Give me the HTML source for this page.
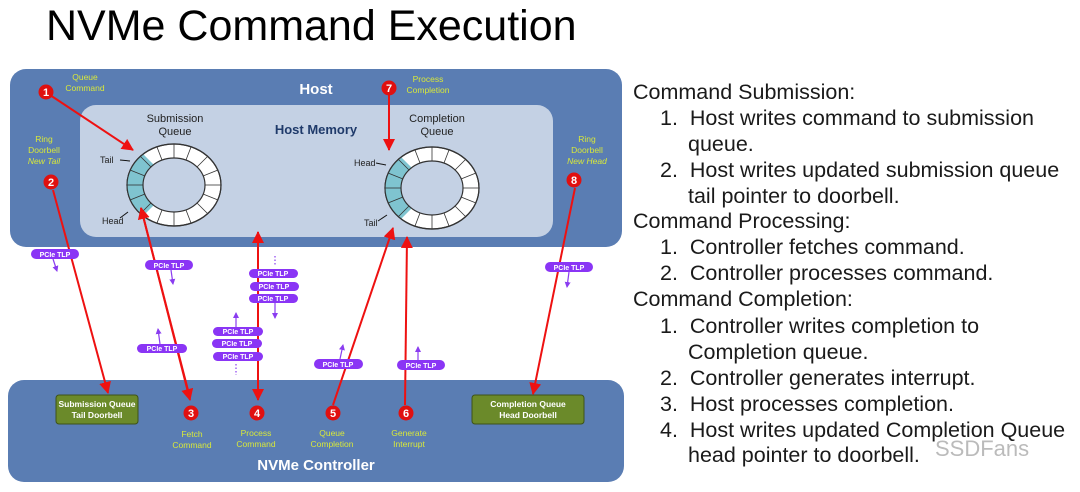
<!DOCTYPE html>
<html><head><meta charset="utf-8"><style>
html,body{margin:0;padding:0;background:#fff;width:1080px;height:492px;overflow:hidden}
.t{position:absolute;font-family:"Liberation Sans",sans-serif;color:#1a1a1a;font-size:21.5px;white-space:nowrap;line-height:26px}
</style></head><body>
<div class="t" style="left:46px;top:1px;font-size:43px;line-height:50px;color:#000">NVMe Command Execution</div>
<svg width="1080" height="492" style="position:absolute;left:0;top:0" font-family="Liberation Sans, sans-serif">
<defs>
<marker id="ah2" markerWidth="12" markerHeight="12" refX="11" refY="6" orient="auto" markerUnits="userSpaceOnUse"><path d="M0,0 L12,6 L0,12 z" fill="#ee1111"/></marker>
<marker id="pa" markerWidth="6" markerHeight="6" refX="5" refY="3" orient="auto" markerUnits="userSpaceOnUse"><path d="M0,0 L6,3 L0,6 z" fill="#8a3cf0"/></marker>
</defs>
<rect x="10" y="69" width="612" height="178" rx="16" fill="#5a7db3"/>
<rect x="80" y="105" width="473" height="132" rx="16" fill="#c4d1e4"/>
<text x="316" y="94" fill="#fff" font-size="15" font-weight="bold" text-anchor="middle">Host</text>
<text x="316" y="134" fill="#1f3a6a" font-size="13" font-weight="bold" text-anchor="middle">Host Memory</text>
<text x="175" y="122" fill="#222" font-size="11" text-anchor="middle">Submission</text>
<text x="175" y="135" fill="#222" font-size="11" text-anchor="middle">Queue</text>
<text x="437" y="122" fill="#222" font-size="11" text-anchor="middle">Completion</text>
<text x="437" y="135" fill="#222" font-size="11" text-anchor="middle">Queue</text>
<g font-size="8.5" fill="#d8e83a" text-anchor="middle">
<text x="85" y="80">Queue</text><text x="85" y="91">Command</text>
<text x="44" y="142">Ring</text><text x="44" y="153">Doorbell</text><text x="44" y="164" font-style="italic">New Tail</text>
<text x="428" y="82">Process</text><text x="428" y="93">Completion</text>
<text x="587" y="142">Ring</text><text x="587" y="153">Doorbell</text><text x="587" y="164" font-style="italic">New Head</text>
</g>
<g id="ring1">
<ellipse cx="174" cy="185" rx="47" ry="41" fill="#fff" stroke="#333" stroke-width="1.2"/>
<path d="M174 185 L127 185 A47 41 0 0 1 143 154 Z" fill="#7fc4d0"/>
<path d="M174 185 L127 185 A47 41 0 0 0 143 216 Z" fill="#7fc4d0"/>
<ellipse cx="174" cy="185" rx="47" ry="41" fill="none" stroke="#333" stroke-width="1.2"/>
<ellipse cx="174" cy="185" rx="31" ry="27" fill="#c4d1e4" stroke="#333" stroke-width="1.2"/>
<g stroke="#333" stroke-width="0.8">
<line x1="127" y1="185" x2="143" y2="185"/><line x1="221" y1="185" x2="205" y2="185"/>
<line x1="174" y1="144" x2="174" y2="158"/><line x1="174" y1="226" x2="174" y2="212"/>
<line x1="157" y1="147" x2="162" y2="160"/><line x1="191" y1="147" x2="186" y2="160"/>
<line x1="157" y1="223" x2="162" y2="210"/><line x1="191" y1="223" x2="186" y2="210"/>
<line x1="140" y1="156" x2="151" y2="167"/><line x1="208" y1="156" x2="197" y2="167"/>
<line x1="140" y1="214" x2="151" y2="203"/><line x1="208" y1="214" x2="197" y2="203"/>
<line x1="130" y1="170" x2="145" y2="176"/><line x1="218" y1="170" x2="203" y2="176"/>
<line x1="130" y1="200" x2="145" y2="194"/><line x1="218" y1="200" x2="203" y2="194"/>
</g></g>
<use href="#ring1" x="258" y="3"/>
<g font-size="9" fill="#222">
<text x="100" y="163">Tail</text><text x="102" y="224">Head</text>
<text x="354" y="166">Head</text><text x="364" y="226">Tail</text>
</g>
<g stroke="#111" stroke-width="1">
<line x1="120" y1="160" x2="130" y2="161"/><line x1="120" y1="218" x2="128" y2="212"/>
<line x1="376" y1="163" x2="386" y2="165"/><line x1="378" y1="221" x2="387" y2="215"/>
</g>
<rect x="8" y="380" width="616" height="102" rx="16" fill="#5a7db3"/>
<text x="316" y="470" fill="#fff" font-size="15" font-weight="bold" text-anchor="middle">NVMe Controller</text>
<rect x="56" y="395" width="82" height="29" rx="3" fill="#6b8a2a" stroke="#3d5218"/>
<text x="97" y="407" fill="#fff" font-size="8.5" font-weight="bold" text-anchor="middle">Submission Queue</text>
<text x="97" y="418" fill="#fff" font-size="8.5" font-weight="bold" text-anchor="middle">Tail Doorbell</text>
<rect x="472" y="395" width="112" height="29" rx="3" fill="#6b8a2a" stroke="#3d5218"/>
<text x="528" y="407" fill="#fff" font-size="8.5" font-weight="bold" text-anchor="middle">Completion Queue</text>
<text x="528" y="418" fill="#fff" font-size="8.5" font-weight="bold" text-anchor="middle">Head Doorbell</text>
<g font-size="8.5" fill="#d8e83a" text-anchor="middle">
<text x="192" y="437">Fetch</text><text x="192" y="448">Command</text>
<text x="256" y="436">Process</text><text x="256" y="447">Command</text>
<text x="332" y="436">Queue</text><text x="332" y="447">Completion</text>
<text x="409" y="436">Generate</text><text x="409" y="447">Interrupt</text>
</g>
<g stroke="#ee1111" stroke-width="2" fill="none">
<line x1="50" y1="95" x2="133" y2="150" marker-end="url(#ah2)"/>
<line x1="53" y1="190" x2="108" y2="393" marker-end="url(#ah2)"/>
<line x1="190" y1="398" x2="141" y2="208" marker-end="url(#ah2)"/>
<line x1="141" y1="208" x2="190" y2="400" marker-end="url(#ah2)"/>
<line x1="258" y1="260" x2="258" y2="232" marker-end="url(#ah2)"/>
<line x1="258" y1="240" x2="258" y2="400" marker-end="url(#ah2)"/>
<line x1="333" y1="405" x2="393" y2="228" marker-end="url(#ah2)"/>
<line x1="405" y1="405" x2="407" y2="237" marker-end="url(#ah2)"/>
<line x1="389" y1="95" x2="389" y2="150" marker-end="url(#ah2)"/>
<line x1="575" y1="188" x2="533" y2="394" marker-end="url(#ah2)"/>
</g>
<g font-size="11" font-weight="bold" fill="#fff" text-anchor="middle">
<circle cx="46" cy="92" r="7.5" fill="#e01010"/><text x="46" y="96">1</text>
<circle cx="51" cy="182" r="7.5" fill="#e01010"/><text x="51" y="186">2</text>
<circle cx="191" cy="413" r="7.5" fill="#e01010"/><text x="191" y="417">3</text>
<circle cx="257" cy="413" r="7.5" fill="#e01010"/><text x="257" y="417">4</text>
<circle cx="333" cy="413" r="7.5" fill="#e01010"/><text x="333" y="417">5</text>
<circle cx="406" cy="413" r="7.5" fill="#e01010"/><text x="406" y="417">6</text>
<circle cx="389" cy="88" r="7.5" fill="#e01010"/><text x="389" y="92">7</text>
<circle cx="574" cy="180" r="7.5" fill="#e01010"/><text x="574" y="184">8</text>
</g>
<g font-size="7" font-weight="bold" fill="#fff" text-anchor="middle">
<rect x="31" y="249" width="48" height="10" rx="5" fill="#8a35f5"/><text x="55" y="257">PCIe TLP</text>
<rect x="145" y="260" width="48" height="10" rx="5" fill="#8a35f5"/><text x="169" y="268">PCIe TLP</text>
<rect x="249" y="269" width="49" height="9" rx="4.5" fill="#8a35f5"/><text x="273" y="276">PCIe TLP</text>
<rect x="250" y="282" width="49" height="9" rx="4.5" fill="#8a35f5"/><text x="274" y="289">PCIe TLP</text>
<rect x="249" y="294" width="49" height="9" rx="4.5" fill="#8a35f5"/><text x="273" y="301">PCIe TLP</text>
<rect x="213" y="327" width="50" height="9" rx="4.5" fill="#8a35f5"/><text x="238" y="334">PCIe TLP</text>
<rect x="212" y="339" width="50" height="9" rx="4.5" fill="#8a35f5"/><text x="237" y="346">PCIe TLP</text>
<rect x="213" y="352" width="50" height="9" rx="4.5" fill="#8a35f5"/><text x="238" y="359">PCIe TLP</text>
<rect x="137" y="344" width="50" height="9" rx="4.5" fill="#8a35f5"/><text x="162" y="351">PCIe TLP</text>
<rect x="314" y="359" width="49" height="10" rx="5" fill="#8a35f5"/><text x="338" y="367">PCIe TLP</text>
<rect x="397" y="360" width="48" height="10" rx="5" fill="#8a35f5"/><text x="421" y="368">PCIe TLP</text>
<rect x="545" y="262" width="48" height="10" rx="5" fill="#8a35f5"/><text x="569" y="270">PCIe TLP</text>
</g>
<g stroke="#8a3cf0" stroke-width="1.2" marker-end="url(#pa)">
<line x1="53" y1="259" x2="57" y2="271"/>
<line x1="171" y1="270" x2="173" y2="284"/>
<line x1="275" y1="303" x2="275" y2="318"/>
<line x1="236" y1="327" x2="236" y2="313"/>
<line x1="160" y1="344" x2="158" y2="329"/>
<line x1="340" y1="359" x2="343" y2="345"/>
<line x1="418" y1="360" x2="418" y2="347"/>
<line x1="569" y1="272" x2="567" y2="287"/>
</g>
<g stroke="#8a3cf0" stroke-width="1.2" stroke-dasharray="1.5,2">
<line x1="275" y1="256" x2="275" y2="266"/>
<line x1="236" y1="364" x2="236" y2="375"/>
</g>
</svg>
<div class="t" style="left:633px;top:79px">Command Submission:</div>
<div class="t" style="left:660px;top:105px">1.&nbsp; Host writes command to submission</div>
<div class="t" style="left:688px;top:131px">queue.</div>
<div class="t" style="left:660px;top:157px">2.&nbsp; Host writes updated submission queue</div>
<div class="t" style="left:688px;top:183px">tail pointer to doorbell.</div>
<div class="t" style="left:633px;top:208px">Command Processing:</div>
<div class="t" style="left:660px;top:234px">1.&nbsp; Controller fetches command.</div>
<div class="t" style="left:660px;top:260px">2.&nbsp; Controller processes command.</div>
<div class="t" style="left:633px;top:286px">Command Completion:</div>
<div class="t" style="left:660px;top:313px">1.&nbsp; Controller writes completion to</div>
<div class="t" style="left:688px;top:339px">Completion queue.</div>
<div class="t" style="left:660px;top:365px">2.&nbsp; Controller generates interrupt.</div>
<div class="t" style="left:660px;top:391px">3.&nbsp; Host processes completion.</div>
<div class="t" style="left:660px;top:417px">4.&nbsp; Host writes updated Completion Queue</div>
<div class="t" style="left:688px;top:442px">head pointer to doorbell.</div>
<div class="t" style="left:935px;top:436px;color:#bbb;font-size:22px">SSDFans</div>
</body></html>
